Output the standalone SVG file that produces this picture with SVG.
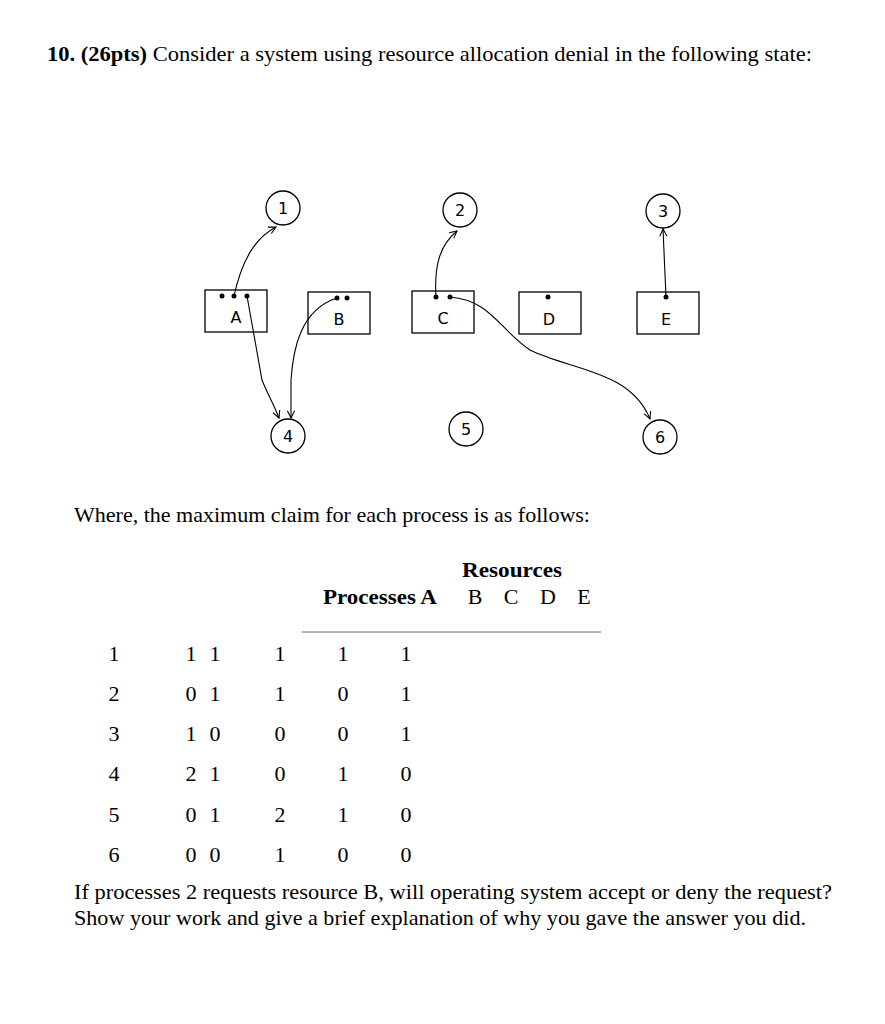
<svg xmlns="http://www.w3.org/2000/svg" width="885" height="1024" viewBox="0 0 885 1024">
<style>
.t{font-family:"Liberation Serif",serif;font-size:22px;fill:#000}
.b{font-weight:bold}
.c{font-family:"DejaVu Sans",sans-serif;font-size:16px;text-anchor:middle}
.n rect,.n circle{fill:#fff;stroke:#000;stroke-width:1.3}
.e path{fill:none;stroke:#000;stroke-width:1.1}
.d{fill:#000}
.m{text-anchor:middle}
</style>
<defs><marker id="ar" viewBox="0 0 10 10" refX="9" refY="5" markerWidth="9" markerHeight="9" orient="auto" markerUnits="userSpaceOnUse"><path d="M1 1L9 5L1 9" fill="none" stroke="#000" stroke-width="1.2"/></marker></defs>
<rect width="885" height="1024" fill="#fff"/>
<text class="t" x="47" y="61" textLength="765" lengthAdjust="spacingAndGlyphs"><tspan class="b">10. (26pts)</tspan> Consider a system using resource allocation denial in the following state:</text>
<g class="n" id="nA"><rect x="205" y="290" width="62" height="42"/><text class="c" x="236" y="323">A</text></g>
<g class="n" id="nB"><rect x="308" y="292" width="62" height="42"/><text class="c" x="339" y="325">B</text></g>
<g class="n" id="nC"><rect x="412" y="291" width="62" height="42"/><text class="c" x="443" y="324">C</text></g>
<g class="n" id="nD"><rect x="519" y="292" width="62" height="42"/><text class="c" x="549" y="325">D</text></g>
<g class="n" id="nE"><rect x="637" y="292" width="62" height="42"/><text class="c" x="666" y="325">E</text></g>
<g class="n" id="p1"><circle cx="283" cy="208" r="17"/><text class="c" x="283" y="214">1</text></g>
<g class="n" id="p2"><circle cx="460" cy="210" r="17"/><text class="c" x="460" y="216">2</text></g>
<g class="n" id="p3"><circle cx="663" cy="211" r="17"/><text class="c" x="663" y="217">3</text></g>
<g class="n" id="p4"><circle cx="288" cy="436" r="17"/><text class="c" x="288" y="442">4</text></g>
<g class="n" id="p5"><circle cx="466" cy="429" r="17"/><text class="c" x="466" y="435">5</text></g>
<g class="n" id="p6"><circle cx="660" cy="437" r="17"/><text class="c" x="660" y="443">6</text></g>
<g id="dots" class="d"><circle cx="222" cy="296" r="2.5"/><circle cx="234" cy="296" r="2.5"/><circle cx="247" cy="296" r="2.5"/><circle cx="337" cy="298" r="2.5"/><circle cx="347" cy="298" r="2.5"/><circle cx="436" cy="297" r="2.5"/><circle cx="450" cy="297" r="2.5"/><circle cx="548" cy="297" r="2.5"/><circle cx="666" cy="297" r="2.5"/></g>
<g class="e" id="edges">
<path d="M234 296C242 260 255 238 276 227" marker-end="url(#ar)"/>
<path d="M247 296C255 340 260 370 262 380C268 395 274 405 279 418" marker-end="url(#ar)"/>
<path d="M337 298C300 310 293 350 291 380L291 418" marker-end="url(#ar)"/>
<path d="M436 297C434 265 440 245 457 231" marker-end="url(#ar)"/>
<path d="M450 297C490 300 500 330 530 350C570 370 630 370 650 419" marker-end="url(#ar)"/>
<path d="M666 297L663 229" marker-end="url(#ar)"/>
</g>
<text class="t" x="74" y="522" textLength="516" lengthAdjust="spacingAndGlyphs">Where, the maximum claim for each process is as follows:</text>
<text class="t b" x="462" y="577" textLength="100" lengthAdjust="spacingAndGlyphs">Resources</text>
<text class="t b" x="323" y="604" textLength="114" lengthAdjust="spacingAndGlyphs">Processes A</text>
<text class="t m" x="475" y="604">B</text><text class="t m" x="511" y="604">C</text><text class="t m" x="548" y="604">D</text><text class="t m" x="584" y="604">E</text>
<line x1="302" y1="632" x2="601" y2="632" stroke="#666" stroke-width="1"/>
<g class="t m">
<text x="114" y="661">1</text><text x="191" y="661">1</text><text x="215" y="661">1</text><text x="280" y="661">1</text><text x="343" y="661">1</text><text x="406" y="661">1</text>
<text x="114" y="701">2</text><text x="191" y="701">0</text><text x="215" y="701">1</text><text x="280" y="701">1</text><text x="343" y="701">0</text><text x="406" y="701">1</text>
<text x="114" y="741">3</text><text x="191" y="741">1</text><text x="215" y="741">0</text><text x="280" y="741">0</text><text x="343" y="741">0</text><text x="406" y="741">1</text>
<text x="114" y="781">4</text><text x="191" y="781">2</text><text x="215" y="781">1</text><text x="280" y="781">0</text><text x="343" y="781">1</text><text x="406" y="781">0</text>
<text x="114" y="822">5</text><text x="191" y="822">0</text><text x="215" y="822">1</text><text x="280" y="822">2</text><text x="343" y="822">1</text><text x="406" y="822">0</text>
<text x="114" y="862">6</text><text x="191" y="862">0</text><text x="215" y="862">0</text><text x="280" y="862">1</text><text x="343" y="862">0</text><text x="406" y="862">0</text>
</g>
<text class="t" x="74" y="899" textLength="758" lengthAdjust="spacingAndGlyphs">If processes 2 requests resource B, will operating system accept or deny the request?</text>
<text class="t" x="74" y="925" textLength="732" lengthAdjust="spacingAndGlyphs">Show your work and give a brief explanation of why you gave the answer you did.</text>
</svg>
